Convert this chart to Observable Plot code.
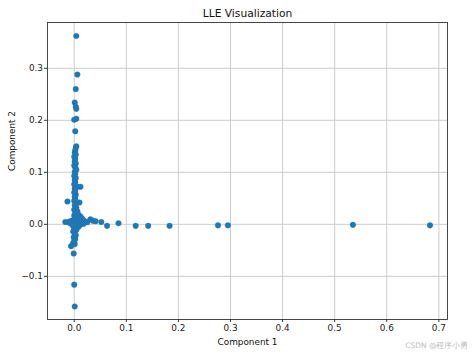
<!DOCTYPE html>
<html>
<head>
<meta charset="utf-8">
<script src="https://cdn.jsdelivr.net/npm/d3@7"></script>
<script src="https://cdn.jsdelivr.net/npm/@observablehq/plot@0.6"></script>
<style>
  html, body { margin: 0; padding: 0; background: #fff; }
  #chart svg { display: block; }
</style>
</head>
<body>
<div id="chart"></div>
<script>
const titleText = "LLE Visualization";
const xLabel = "Component 1";
const yLabel = "Component 2";
const watermark = "CSDN @程序小勇";
const xTicks = [0, 0.1, 0.2, 0.3, 0.4, 0.5, 0.6, 0.7];
const yTicks = [-0.1, 0, 0.1, 0.2, 0.3];

const compX = [
  0.004, 0.006, 0.003, 0.001, 0.003, 0.004, 0.004, 0.000, 0.002,
  0.004, 0.003, 0.002, 0.001, 0.003, 0.000, 0.002, 0.001, 0.003, 0.000,
  0.002, 0.004, 0.001, 0.002, 0.000, 0.003, 0.001, 0.002, 0.000, 0.003,
  0.012, 0.006, 0.001, 0.002, 0.000, 0.003, 0.001, 0.002, -0.013, 0.010,
  0.000, 0.003, 0.001, 0.004, 0.000, 0.006, 0.002, 0.008, 0.000, 0.012,
  0.004, 0.015, 0.001, 0.010, 0.018, -0.005, -0.017, -0.010, 0.002, 0.007,
  0.014, 0.020, 0.025, -0.008, 0.000, 0.005, 0.012, 0.018, -0.003, 0.002,
  0.008, 0.000, 0.004, -0.002, 0.001, 0.003, -0.001, 0.002, 0.000, -0.002,
  0.001, -0.006, -0.001, 0.000, 0.001,
  0.031, 0.036, 0.041, 0.052, 0.063, 0.085, 0.118, 0.142, 0.183, 0.276,
  0.295, 0.535, 0.683
];
const compY = [
  0.362, 0.288, 0.260, 0.234, 0.226, 0.222, 0.203, 0.201, 0.179,
  0.150, 0.147, 0.142, 0.138, 0.134, 0.130, 0.126, 0.121, 0.117, 0.113,
  0.109, 0.105, 0.101, 0.097, 0.093, 0.089, 0.085, 0.081, 0.077, 0.074,
  0.072, 0.072, 0.069, 0.065, 0.061, 0.057, 0.053, 0.049, 0.044, 0.042,
  0.045, 0.040, 0.036, 0.032, 0.028, 0.025, 0.022, 0.019, 0.017, 0.015,
  0.013, 0.011, 0.010, 0.008, 0.007, 0.007, 0.0045, 0.005, 0.005, 0.004,
  0.003, 0.006, 0.004, 0.002, 0.001, 0.000, -0.001, 0.001, -0.002, -0.004,
  -0.005, -0.008, -0.011, -0.014, -0.018, -0.021, -0.025, -0.028, -0.032, -0.036,
  -0.038, -0.042, -0.056, -0.116, -0.158,
  0.0096, 0.007, 0.006, 0.0045, -0.003, 0.002, -0.003, -0.003, -0.003, -0.002,
  -0.002, -0.001, -0.002
];

const points = compX.map((x, i) => ({x, y: compY[i]}));
const font = "'DejaVu Sans', sans-serif";

const chart = Plot.plot({
  width: 474,
  height: 353,
  marginTop: 22,
  marginBottom: 34,
  marginLeft: 47,
  marginRight: 27,
  style: {fontFamily: font, color: "#222", background: "#fff"},
  x: {domain: [-0.0513, 0.7166]},
  y: {domain: [-0.183, 0.388]},
  marks: [
    Plot.gridX(xTicks, {stroke: "#cccccc", strokeOpacity: 1, strokeWidth: 1}),
    Plot.gridY(yTicks, {stroke: "#cccccc", strokeOpacity: 1, strokeWidth: 1}),
    Plot.dot(points, {x: "x", y: "y", r: 2.8, fill: "#1f77b4", stroke: "#1f77b4", strokeWidth: 0.4}),
    Plot.frame({stroke: "#333", strokeWidth: 0.9}),
    Plot.axisX(xTicks, {tickSize: 3, tickPadding: 2.5, fontSize: 8.9, tickFormat: d3.format(".1f"), label: null, stroke: "#333"}),
    Plot.axisY(yTicks, {tickSize: 3, tickPadding: 1.5, fontSize: 8.9, tickFormat: d3.format(".1f"), label: null, stroke: "#333"}),
    Plot.text([titleText], {frameAnchor: "top", dy: -9, lineAnchor: "middle", fontSize: 10.7, fill: "#111"}),
    Plot.text([xLabel], {frameAnchor: "bottom", dy: 23, lineAnchor: "middle", fontSize: 8.9, fill: "#111"}),
    Plot.text([yLabel], {frameAnchor: "left", dx: -35, rotate: -90, lineAnchor: "middle", fontSize: 8.9, fill: "#111"}),
    Plot.text([watermark], {frameAnchor: "bottom-right", dx: 21, dy: 26, textAnchor: "end", lineAnchor: "middle", fontSize: 7.5, fill: "#bdbdbd"})
  ]
});
document.getElementById("chart").appendChild(chart);
</script>
</body>
</html>
